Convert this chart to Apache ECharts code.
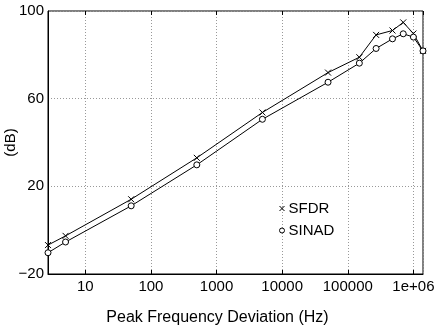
<!DOCTYPE html>
<html><head><meta charset="utf-8">
<script src="https://cdn.jsdelivr.net/npm/echarts@6/dist/echarts.min.js"></script>
<style>html,body{margin:0;padding:0;background:#fff}#c{width:437px;height:329px}</style>
</head><body><div id="c"></div>
<script>
var freqs = [2.7, 5, 50, 500, 5000, 50000, 150000, 270000, 480000, 700000, 1000000, 1400000];
var sfdr = [-6.8, -2.6, 14.1, 33.0, 53.7, 71.9, 78.9, 89.1, 91.1, 94.8, 89.7, 81.8];
var sinad = [-10.3, -5.4, 11.1, 29.8, 50.6, 67.5, 76.2, 82.9, 87.3, 89.6, 88.1, 81.8];
var xTickLabels = {10:'10', 100:'100', 1000:'1000', 10000:'10000', 100000:'100000', 1000000:'1e+06'};
var yTickLabels = [-20, 20, 60, 100];

var FONT = 'Liberation Sans, Arial, Helvetica, sans-serif';
var crossPath = 'path://M0,0L10,10M10,0L0,10';
function pairs(ys){ return freqs.map(function(f,i){ return [f, ys[i]]; }); }
function isPow(v){ var l = Math.log10(v); return Math.abs(l - Math.round(l)) < 1e-6; }

var chart = echarts.init(document.getElementById('c'), null, {renderer:'canvas'});
var xMin = freqs[0], xMax = freqs[freqs.length-1];
chart.setOption({
  animation:false,
  backgroundColor:'#fff',
  grid:{left:48, right:14, top:11, bottom:55, show:true, borderColor:'#000', borderWidth:1, containLabel:false, outerBoundsMode:'none'},
  legend:{
    left:272, top:196, orient:'vertical', itemWidth:5, itemHeight:5, itemGap:7,
    textStyle:{fontFamily:FONT, fontSize:15, color:'#000', padding:[0,0,0,-1]},
    data:[{name:'SFDR', icon:crossPath, itemStyle:{color:'none', borderColor:'#000', borderWidth:1}},
          {name:'SINAD', icon:'circle', itemStyle:{color:'#fff', borderColor:'#000', borderWidth:1}}]
  },
  xAxis:[{
    type:'log', logBase:10, min:xMin, max:xMax,
    name:'Peak Frequency Deviation (Hz)', nameLocation:'middle', nameGap:36, nameMoveOverlap:false,
    nameTextStyle:{fontFamily:FONT, fontSize:16, color:'#000', padding:[0,36,0,0]},
    axisLine:{show:true, onZero:false, lineStyle:{color:'#000'}},
    axisTick:{show:true, inside:true, length:4, lineStyle:{color:'#000'}},
    minorTick:{show:false},
    axisLabel:{margin:5, fontFamily:FONT, fontSize:15, color:'#000', showMinLabel:false, showMaxLabel:false,
      formatter:function(v){ var k = Math.round(v); return isPow(v) && xTickLabels[k] ? xTickLabels[k] : ''; }},
    splitLine:{show:true, lineStyle:{color:'#999', type:[1,2], width:1}}
  },{
    type:'log', logBase:10, min:xMin, max:xMax, position:'top',
    axisLine:{show:false, onZero:false}, axisLabel:{show:false}, splitLine:{show:false},
    axisTick:{show:true, inside:true, length:4, lineStyle:{color:'#000'}}
  }],
  yAxis:[{
    type:'value', min:-20, max:100, interval:20,
    name:'(dB)', nameLocation:'middle', nameGap:30, nameRotate:90, nameMoveOverlap:false,
    nameTextStyle:{fontFamily:FONT, fontSize:15, color:'#000'},
    axisLine:{show:true, onZero:false, lineStyle:{color:'#000'}},
    axisTick:{show:false},
    axisLabel:{margin:4, fontFamily:FONT, fontSize:15, color:'#000',
      formatter:function(v){ return yTickLabels.indexOf(v) >= 0 ? String(v).replace('-', '\u2212') : ''; }},
    splitLine:{show:true, lineStyle:{color:['#999','rgba(0,0,0,0)'], type:[1,2], width:1}}
  }],
  series:[{
    name:'SFDR', type:'line', data:pairs(sfdr), symbol:crossPath, symbolSize:6,
    lineStyle:{color:'#000', width:1}, itemStyle:{color:'none', borderColor:'#000', borderWidth:1}
  },{
    name:'SINAD', type:'line', data:pairs(sinad), symbol:'circle', symbolSize:6,
    lineStyle:{color:'#000', width:1}, itemStyle:{color:'#fff', borderColor:'#000', borderWidth:1}
  }]
});
</script></body></html>
